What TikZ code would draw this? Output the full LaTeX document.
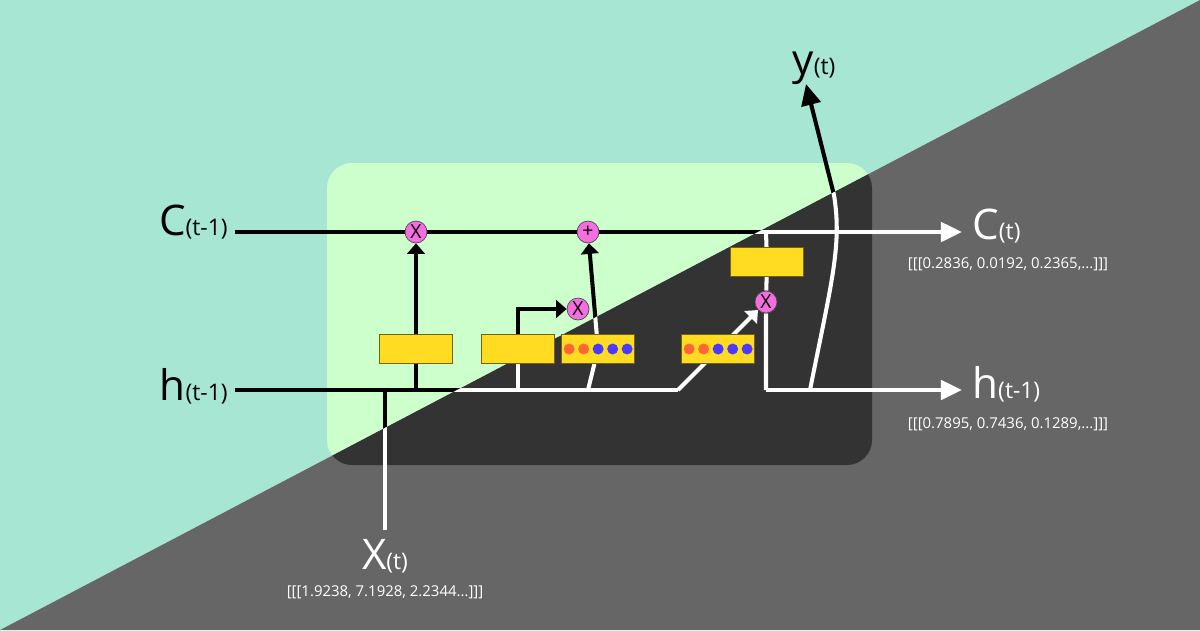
\documentclass[tikz,border=0pt]{standalone}
\usepackage{fontspec}
\setmainfont{Open Sans}
\usetikzlibrary{arrows.meta}
\usetikzlibrary{calc}
\definecolor{mint}{HTML}{A6E6D2}
\definecolor{slate}{HTML}{666666}
\definecolor{cellgreen}{HTML}{CCFFCC}
\definecolor{celldark}{HTML}{333333}
\definecolor{gateyellow}{HTML}{FFDB22}
\definecolor{opmagenta}{HTML}{F56EE0}
\definecolor{dotorange}{HTML}{FF6633}
\definecolor{dotblue}{HTML}{4A3AFF}
\tikzset{x=0.02cm, y=-0.02cm, % pixel grid, y pointing down
wire/.style={line width=2.3pt}, % every connector
bigtip/.style={-{Triangle[width=11pt,length=12pt]}}, % arrows leaving the cell
optip/.style={-{Triangle[width=10pt,length=6pt]}}, % arrows into the operators
gate/.style={ % yellow layer boxes
draw=black!55!gateyellow, line width=0.4pt,
fill=gateyellow, minimum width=1.46cm, minimum height=0.58cm, inner sep=0pt},
op/.style={ % pink pointwise operators
circle, draw=black!70, line width=0.4pt, fill=opmagenta,
minimum size=0.44cm, inner sep=0pt, font=\fontsize{11}{11}\selectfont},
big/.style={font=\fontsize{24}{24}\selectfont, inner sep=0pt},
vec/.style={font=\fontsize{8.5}{9}\selectfont, inner sep=0pt}}
\newcommand{\sub}[1]{{\fontsize{13}{13}\selectfont(#1)}}
% the wires, drawn once per half of the picture
\newcommand{\lstmwires}{%
  \draw[wire, bigtip] (c0) -- (cout);
  \draw[wire] (h0) -- (hbend);
  \draw[wire, optip] (hbend) -- (x3);
  \draw[wire] (xin) -- (xj);
  \draw[wire] (fj) -- (fg);
  \draw[wire, optip] (fg) -- (x1);
  \draw[wire] (ij) -- (ig);
  \draw[wire, optip] (ig.north) |- (x2);
  \draw[wire] (gj) -- (cg);
  \draw[wire, optip] (cg) -- (plus);
  \draw[wire] (tj) -- (tg) -- (x3) -- (hc);
  \draw[wire, bigtip] (hc) -- (hout);
  \draw[wire, bigtip] (yj) .. controls (832,280) and (842,245) .. (834,195) -- (yt);
}
\begin{document}
\begin{tikzpicture}
\useasboundingbox (0,0) rectangle (1200,630);
% two halves of the background
\fill[mint] (0,0) -- (1200,0) -- (0,630) -- cycle;
\fill[slate] (1200,0) -- (1200,630) -- (0,630) -- cycle;

% named points of the wires
\coordinate (c0) at (235,232);
\coordinate (cout) at (962,232);
\coordinate (h0) at (235,390);
\coordinate (hbend) at (678,390);
\coordinate (xin) at (385,530);
\coordinate (xj) at (385,390);
\coordinate (fj) at (416,390);
\coordinate (ij) at (518,390);
\coordinate (gj) at (588,390);
\coordinate (tj) at (766,232);
\coordinate (hc) at (766,390);
\coordinate (hout) at (962,390);
\coordinate (yj) at (810,390);
\coordinate (yt) at (806,84);

% gates and operators
\node[gate] (fg) at (416,349) {};
\node[gate] (ig) at (518,349) {};
\node[gate] (cg) at (598,349) {};
\node[gate] (og) at (718,349) {};
\node[gate] (tg) at (767,262) {};
\node[op] (x1) at (416,232) {X};
\node[op] (plus) at (588,232) {+};
\node[op] (x2) at (578,309) {X};
\node[op] (x3) at (766,302) {X};

% upper half: black ink
\begin{scope}
  \clip (0,0) -- (1200,0) -- (0,630) -- cycle;
  \fill[cellgreen, rounded corners=0.5cm] (327,163) rectangle (872,465);
  \lstmwires
\end{scope}
% lower half: white ink
\begin{scope}[white]
  \clip (1200,0) -- (1200,630) -- (0,630) -- cycle;
  \fill[celldark, rounded corners=0.5cm] (327,163) rectangle (872,465);
  \lstmwires
\end{scope}

% boxes on top of the wires
\foreach \g in {fg,ig,cg,og,tg}
  \node[gate] at (\g) {};
\foreach \o/\t in {x1/X,plus/+,x2/X,x3/X}
  \node[op] at (\o) {\t};
\foreach \g in {cg,og}
  \foreach \i/\c in {0/dotorange,1/dotorange,2/dotblue,3/dotblue,4/dotblue}
    \fill[\c] ($(\g.west)+(8+14.5*\i,0)$) circle (1.1mm);

% labels
\node[big, anchor=east] (lc0) at (228,222) {C\sub{t-1}};
\node[big, anchor=east] (lh0) at (228,386) {h\sub{t-1}};
\node[big, anchor=west, white] (lc) at (972,226) {C\sub{t}};
\node[big, anchor=west, white] (lh) at (972,384) {h\sub{t-1}};
\node[big, white] (lx) at (385,556) {X\sub{t}};
\node[big] (ly) at (814,68) {y\sub{t}};
\node[vec, white] (vc) at (1008,264) {[[[0.2836, 0.0192, 0.2365,...]]]};
\node[vec, white] (vh) at (1008,424) {[[[0.7895, 0.7436, 0.1289,...]]]};
\node[vec, white] (vx) at (385,592) {[[[1.9238, 7.1928, 2.2344...]]]};
\end{tikzpicture}
\end{document}
